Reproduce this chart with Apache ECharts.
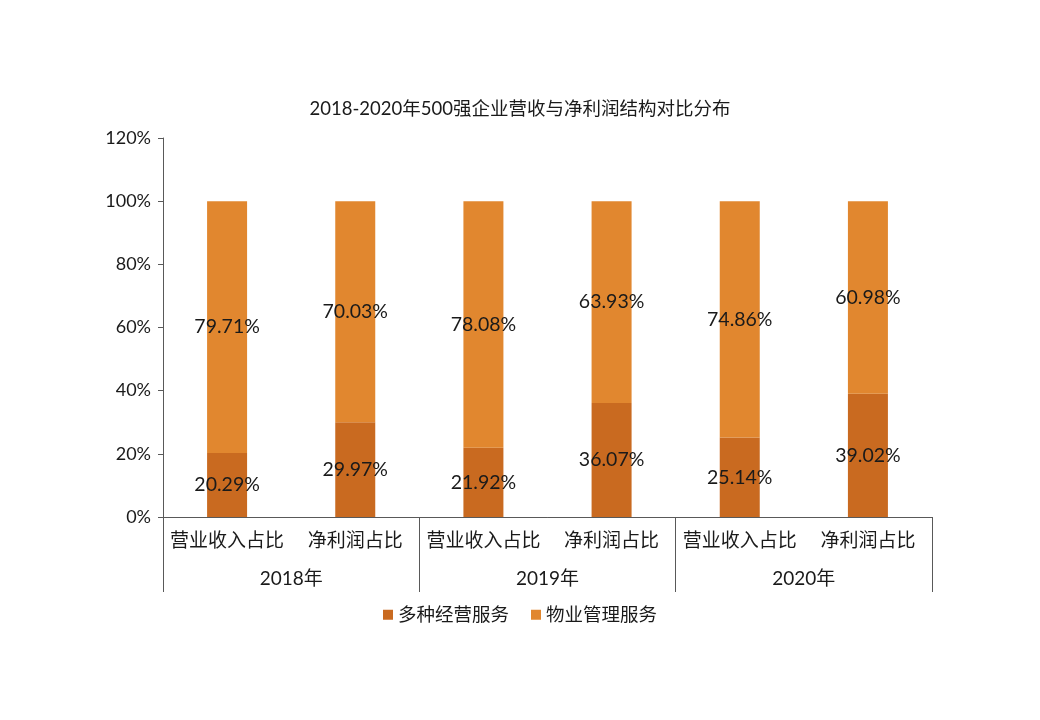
<!DOCTYPE html>
<html>
<head>
<meta charset="utf-8">
<script src="https://cdn.jsdelivr.net/npm/echarts@6/dist/echarts.min.js"></script>
<style>
  html, body { margin: 0; padding: 0; background: #fff; }
  #main { width: 1040px; height: 720px; }
</style>
</head>
<body>
<div id="main"></div>
<script>
var subCats = ['营业收入占比', '净利润占比', '营业收入占比', '净利润占比', '营业收入占比', '净利润占比'];
var years = ['2018年', '2019年', '2020年'];
var seriesNames = ['多种经营服务', '物业管理服务'];
var diversified = [20.29, 29.97, 21.92, 36.07, 25.14, 39.02];
var property = [79.71, 70.03, 78.08, 63.93, 74.86, 60.98];

var font = "Lato, 'Noto Sans CJK SC', sans-serif";
var textColor = '#1a1a1a';
var lineColor = '#595959';

var chart = echarts.init(document.getElementById('main'));
var option = {
    title: {
        text: '2018-2020年500强企业营收与净利润结构对比分布',
        left: 'center',
        top: 95,
        textStyle: { fontFamily: font, fontSize: 18.5, fontWeight: 'normal', color: textColor }
    },
    legend: {
        bottom: 91,
        left: 'center',
        itemWidth: 10,
        itemHeight: 10,
        itemGap: 22,
        icon: 'rect',
        textStyle: { fontFamily: font, fontSize: 18.5, color: textColor },
        data: seriesNames
    },
    grid: { left: 163, right: 108, top: 138, bottom: 203 },
    xAxis: [
        {
            type: 'category',
            data: subCats,
            axisLine: { lineStyle: { color: lineColor } },
            axisTick: { show: false },
            axisLabel: { margin: 14, fontFamily: font, fontSize: 19, color: textColor, interval: 0 }
        },
        {
            type: 'category',
            data: years,
            position: 'bottom',
            offset: 0,
            axisLine: { show: true, lineStyle: { color: lineColor } },
            axisTick: { show: true, interval: 0, alignWithLabel: false, length: 75, lineStyle: { color: lineColor } },
            axisLabel: { margin: 52, fontFamily: font, fontSize: 19, color: textColor }
        }
    ],
    yAxis: {
        type: 'value',
        min: 0,
        max: 120,
        interval: 20,
        splitLine: { show: false },
        axisLine: { show: true, lineStyle: { color: lineColor } },
        axisTick: { show: true, length: 5, lineStyle: { color: lineColor } },
        axisLabel: { formatter: '{value}%', margin: 12, fontFamily: font, fontSize: 18, color: textColor }
    },
    series: [
        {
            name: seriesNames[0],
            type: 'bar',
            stack: 'total',
            barWidth: 40,
            data: diversified,
            itemStyle: { color: '#C96A20' },
            label: {
                show: true, position: 'inside',
                formatter: function (p) { return p.value.toFixed(2) + '%'; },
                fontFamily: font, fontSize: 19.5, color: textColor
            }
        },
        {
            name: seriesNames[1],
            type: 'bar',
            stack: 'total',
            barWidth: 40,
            data: property,
            itemStyle: { color: '#E1872F' },
            label: {
                show: true, position: 'inside',
                formatter: function (p) { return p.value.toFixed(2) + '%'; },
                fontFamily: font, fontSize: 19.5, color: textColor
            }
        }
    ]
};
chart.setOption(option);
</script>
</body>
</html>
